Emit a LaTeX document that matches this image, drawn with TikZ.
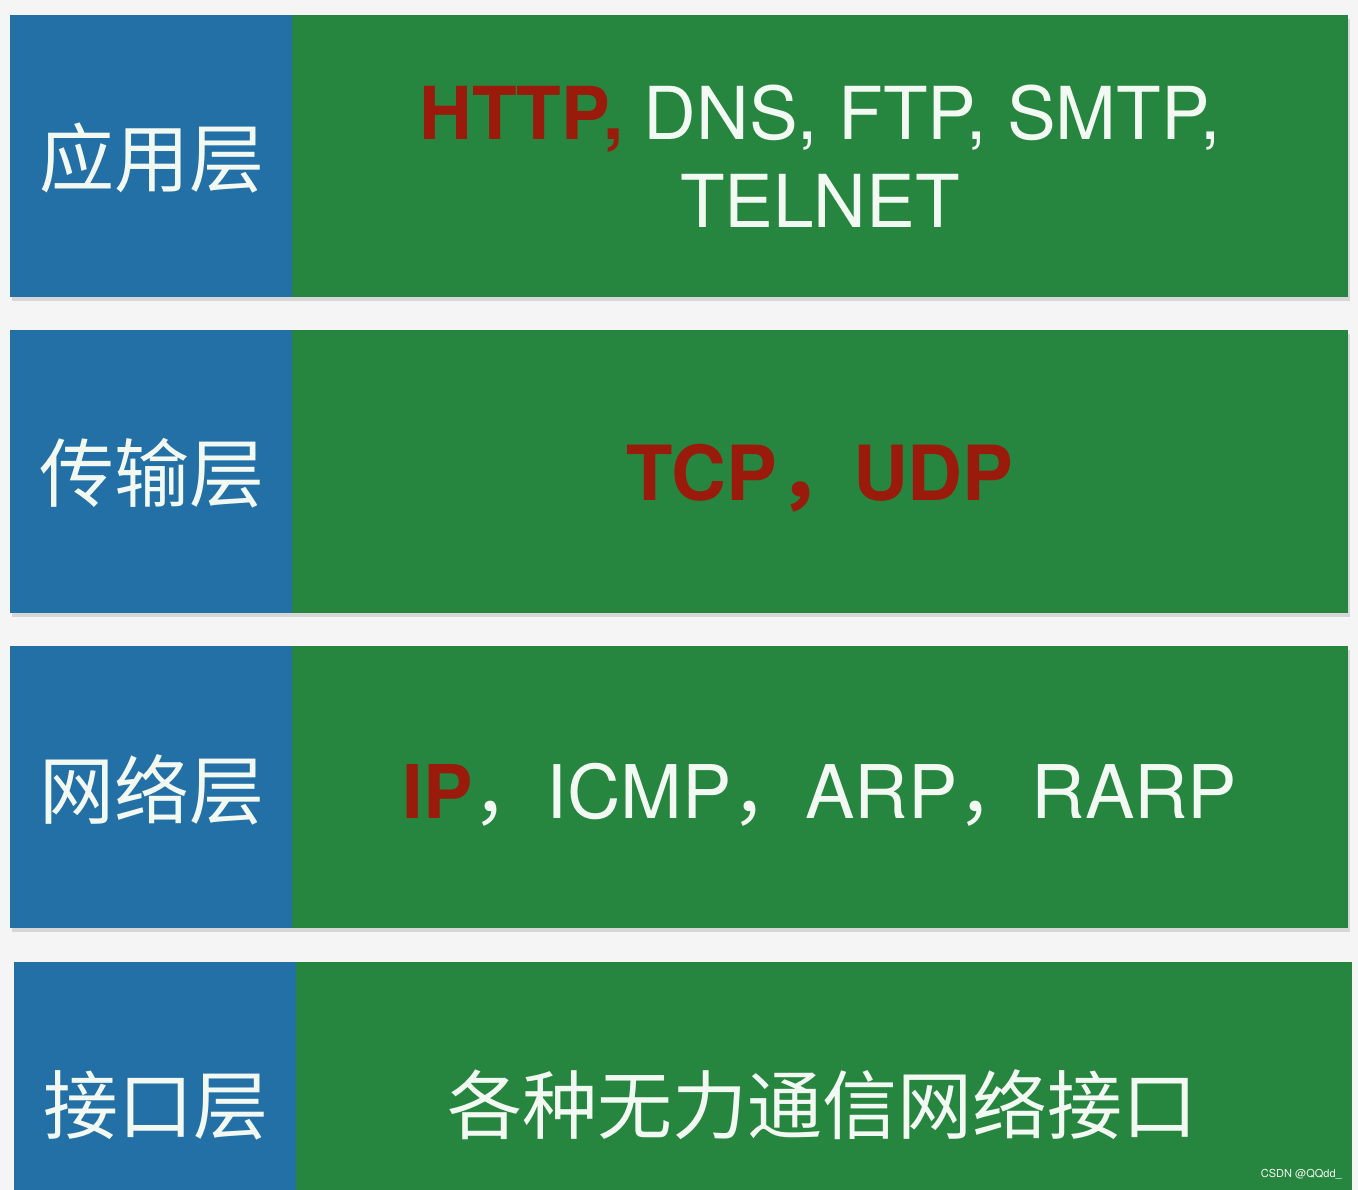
\documentclass[tikz,border=0pt]{standalone}
\usepackage{fontspec}
\setmainfont{TeX Gyre Heros}
\newfontfamily\cjk{Noto Sans CJK SC}
\definecolor{bgc}{HTML}{F5F5F5}
\definecolor{lblue}{HTML}{2270A6}
\definecolor{lgreen}{HTML}{26853E}
\definecolor{lred}{HTML}{9A1A0C}
\definecolor{wtxt}{HTML}{F2F8F2}
\tikzset{
  bluebox/.style={fill=lblue, draw=none, inner sep=0pt, outer sep=0pt, anchor=north west, minimum width=282pt},
  greenbox/.style={fill=lgreen, draw=none, inner sep=0pt, outer sep=0pt, anchor=north west, minimum width=1056pt},
  shadowbox/.style={fill=black, opacity=0.12, draw=none, inner sep=0pt, outer sep=0pt, anchor=north west, minimum width=1338pt},
  labeltxt/.style={text=wtxt, inner sep=0pt, font=\cjk\fontsize{75pt}{90pt}\selectfont},
  maintxt/.style={text=wtxt, inner sep=0pt, anchor=base, font=\fontsize{73pt}{88pt}\selectfont},
}
\newcommand{\redb}[1]{\textcolor{lred}{\bfseries #1}}
\begin{document}
\begin{tikzpicture}[x=1pt,y=-1pt]
\fill[bgc] (0,0) rectangle (1358,1190);
\useasboundingbox (0,0) rectangle (1358,1190);
% shadows
\node[shadowbox, minimum height=282pt] (s1) at (12,19) {};
\node[shadowbox, minimum height=283pt] (s2) at (12,334) {};
\node[shadowbox, minimum height=282pt] (s3) at (12,650) {};
% row 1
\node[bluebox, minimum height=282pt] (b1) at (10,15) {};
\node[greenbox, minimum height=282pt] (g1) at (292,15) {};
% row 2
\node[bluebox, minimum height=283pt] (b2) at (10,330) {};
\node[greenbox, minimum height=283pt] (g2) at (292,330) {};
% row 3
\node[bluebox, minimum height=282pt] (b3) at (10,646) {};
\node[greenbox, minimum height=282pt] (g3) at (292,646) {};
% row 4
\node[bluebox, minimum height=228pt] (b4) at (14,962) {};
\node[greenbox, minimum height=228pt] (g4) at (296,962) {};
% labels
\node[labeltxt] (l1) at (152,158) {应用层};
\node[labeltxt] (l2) at (152,473) {传输层};
\node[labeltxt] (l3) at (152,790) {网络层};
\node[labeltxt] (l4) at (156,1105) {接口层};
% contents
\node[maintxt] (c1a) at (820,140) {\redb{HTTP,} DNS, FTP, SMTP,};
\node[maintxt] (c1b) at (820,228) {TELNET};
\node[maintxt, font=\fontsize{76pt}{90pt}\selectfont] (c2) at (820,500) {\redb{TCP{\cjk，}UDP}};
\node[maintxt, font=\fontsize{74pt}{88pt}\selectfont] (c3) at (820,818) {\redb{IP}{\cjk，}ICMP{\cjk，}ARP{\cjk，}RARP};
\node[labeltxt] (c4) at (822,1105) {各种无力通信网络接口};
\node[text=wtxt, inner sep=0pt, anchor=east, font=\fontsize{11pt}{13pt}\selectfont] (wm) at (1342,1174) {CSDN @QQdd\_};
\end{tikzpicture}
\end{document}
